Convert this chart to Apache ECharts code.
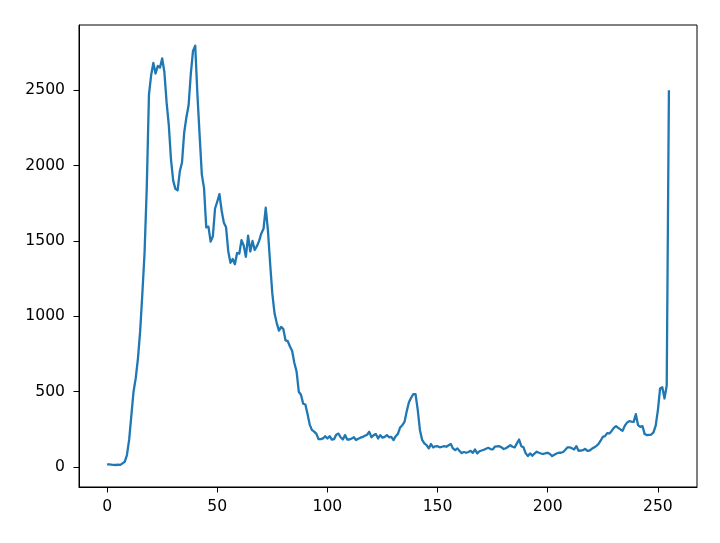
<!DOCTYPE html>
<html>
<head>
<meta charset="utf-8">
<script src="https://cdn.jsdelivr.net/npm/echarts@6/dist/echarts.min.js"></script>
<style>
html,body{margin:0;padding:0;background:#fff;}
#c{width:720px;height:543px;}
</style>
</head>
<body>
<div id="c"></div>
<script>
const values = [
18,18,16,15,14,16,15,25,35,80,
180,340,500,590,720,900,1150,1420,1850,2470,
2600,2680,2610,2660,2650,2710,2620,2420,2270,2040,
1900,1845,1835,1960,2020,2220,2320,2400,2610,2760,
2795,2470,2200,1940,1850,1590,1595,1495,1530,1715,
1760,1810,1700,1620,1590,1430,1355,1380,1345,1420,
1415,1505,1470,1395,1535,1430,1500,1440,1465,1500,
1550,1580,1720,1570,1350,1150,1020,955,905,930,
915,840,835,800,770,690,635,500,480,420,
415,350,280,245,235,220,185,185,190,205,
190,205,183,185,215,222,198,183,212,183,
183,190,198,180,188,195,200,208,215,234,
198,212,219,190,212,195,200,212,198,200,
179,205,220,263,278,300,370,430,460,484,
484,380,245,180,157,146,124,153,131,138,
139,131,135,139,135,145,153,124,113,124,
106,93,100,95,100,108,95,117,91,105,
110,115,122,128,120,117,135,138,139,131,
120,125,135,146,135,131,157,183,139,131,
91,73,91,75,90,102,95,90,87,92,
95,87,73,82,90,95,95,100,115,131,
131,125,117,139,108,110,112,121,108,110,
121,130,139,153,175,200,205,225,223,240,
260,272,260,250,241,275,295,305,302,300,
351,278,267,272,219,212,214,216,230,275,
378,522,530,455,540,2500
];
const xTicks = [0, 50, 100, 150, 200, 250];
const yTicks = [0, 500, 1000, 1500, 2000, 2500];

const seriesData = values.map((v, i) => [i, v]);

const chart = echarts.init(document.getElementById('c'), null, {renderer: 'canvas'});
const font = 'DejaVu Sans';
chart.setOption({
  animation: false,
  backgroundColor: '#ffffff',
  grid: {left: 79, top: 25, right: 23, bottom: 56, show: true, borderColor: '#000', borderWidth: 1, backgroundColor: 'transparent'},
  xAxis: {
    type: 'value', min: -12.75, max: 267.75,
    splitLine: {show: false},
    axisLine: {show: true, onZero: false, lineStyle: {color: '#000', width: 1}},
    axisTick: {show: true, inside: false, length: 5.5, customValues: xTicks, lineStyle: {color: '#000', width: 1}},
    axisLabel: {show: true, customValues: xTicks, margin: 12, color: '#000', fontFamily: font, fontSize: 15.6,
      formatter: v => String(v)}
  },
  yAxis: {
    type: 'value', min: -132, max: 2932,
    splitLine: {show: false},
    axisLine: {show: true, onZero: false, lineStyle: {color: '#000', width: 1}},
    axisTick: {show: true, inside: false, length: 5.5, customValues: yTicks, lineStyle: {color: '#000', width: 1}},
    axisLabel: {show: true, customValues: yTicks, margin: 14, color: '#000', fontFamily: font, fontSize: 15.6,
      formatter: v => String(v)}
  },
  series: [{
    type: 'line',
    data: seriesData,
    showSymbol: false,
    symbol: 'none',
    lineStyle: {color: '#1f77b4', width: 2.3, join: 'round', cap: 'butt'},
    itemStyle: {color: '#1f77b4'}
  }]
});
</script>
</body>
</html>
